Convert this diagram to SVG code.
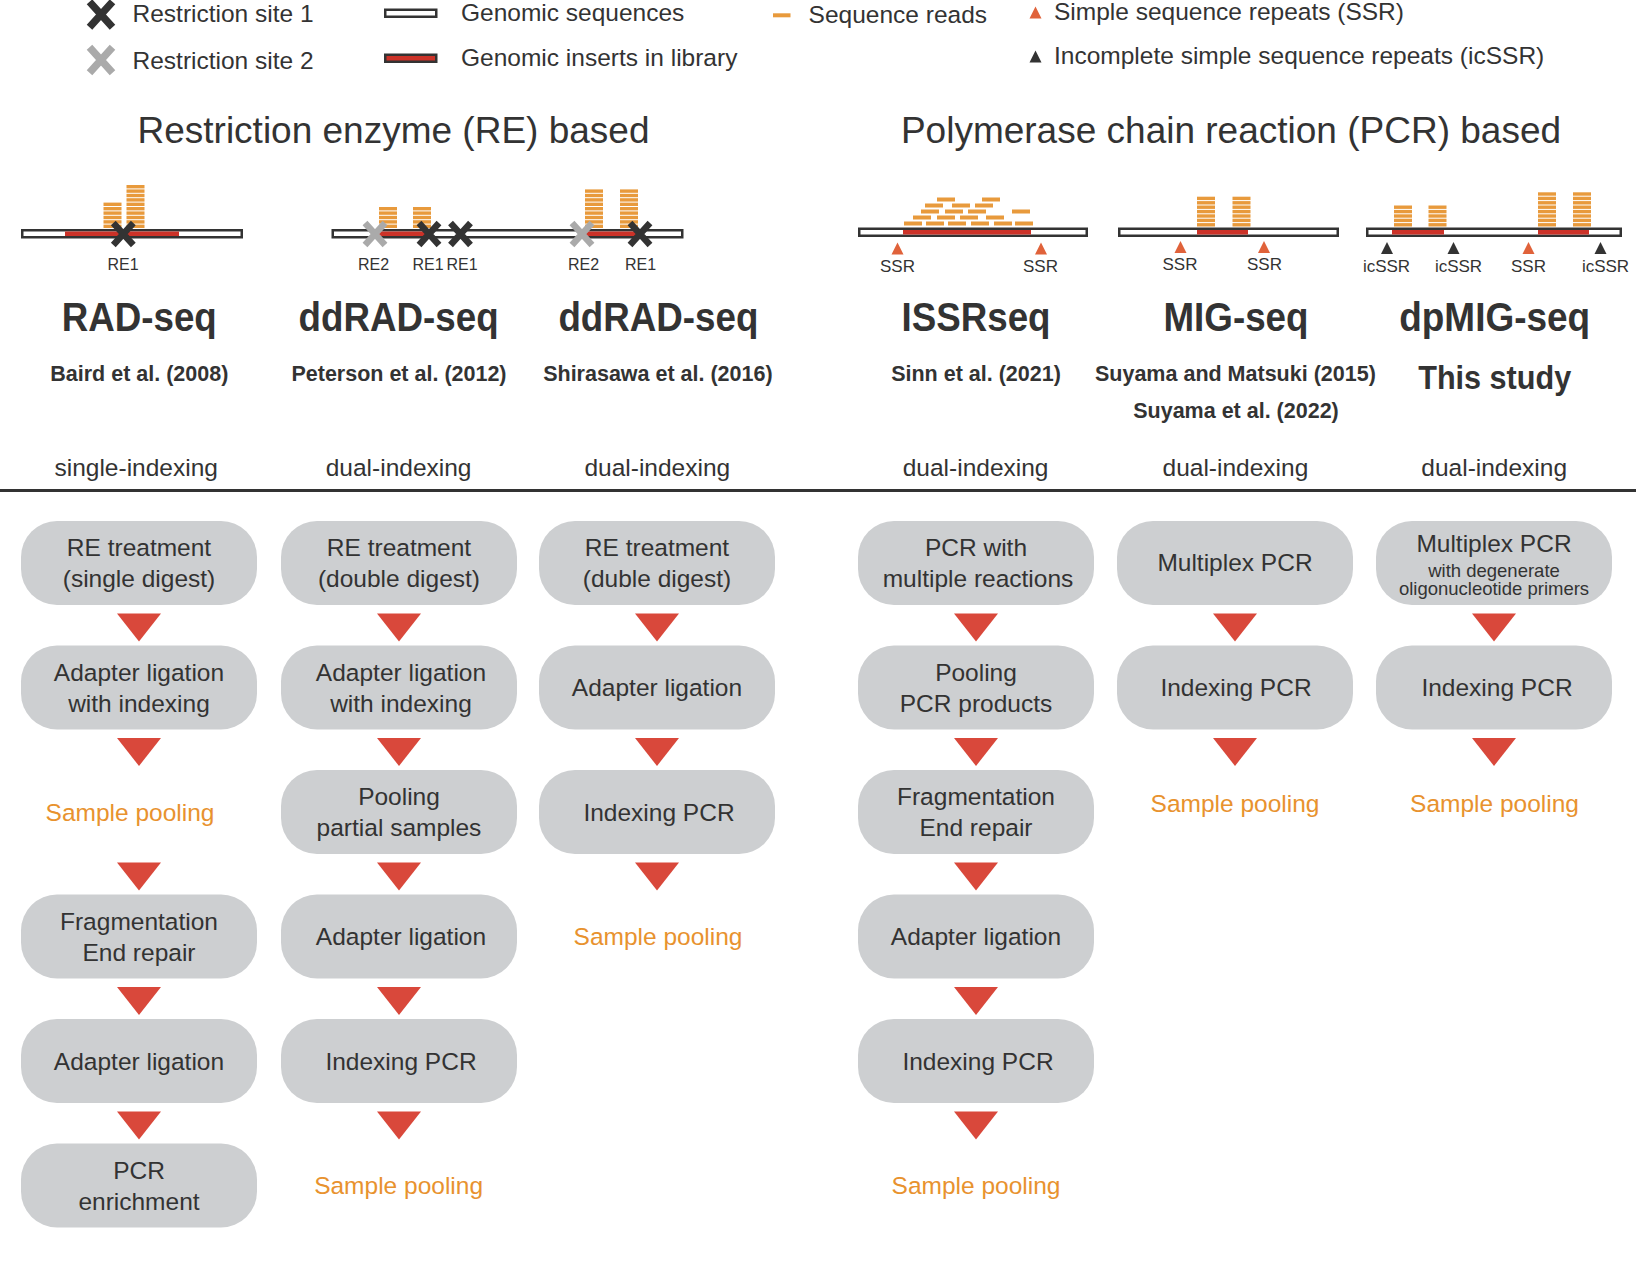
<svg xmlns="http://www.w3.org/2000/svg" xmlns:xlink="http://www.w3.org/1999/xlink" width="1636" height="1270" viewBox="0 0 1636 1270">
<style>
text{font-family:"Liberation Sans",Arial,Helvetica,sans-serif;fill:#333}
.lg{font-size:24.5px}
.hd{font-size:37px;text-anchor:middle}
.ti{font-size:41px;font-weight:bold;text-anchor:middle}
.ci{font-size:21.5px;font-weight:bold;text-anchor:middle}
.ix{font-size:24.5px;text-anchor:middle}
.bt{font-size:24.5px;text-anchor:middle}
.sm{font-size:18.5px;text-anchor:middle}
.pool{font-size:24.5px;text-anchor:middle;fill:#e8922e}
.lab{font-size:16px;text-anchor:middle}
.box{fill:#cdcfd1}
.tri{fill:#d9483b}
.or{fill:#e89a3c}
.gout{fill:#333}
.gin{fill:#fff}
.gred{fill:#cc3228}
</style>
<defs>
<path id="xm" d="M-10,-11 L10,11 M10,-11 L-10,11" stroke-width="6.5" fill="none"/>
<g id="s5" class="or"><rect x="0" y="-3.4" width="18" height="3.4"/><rect x="0" y="-7.8" width="18" height="3.4"/><rect x="0" y="-12.2" width="18" height="3.4"/><rect x="0" y="-16.6" width="18" height="3.4"/><rect x="0" y="-21" width="18" height="3.4"/></g>
<g id="s6"><use xlink:href="#s5"/><rect class="or" x="0" y="-25.4" width="18" height="3.4"/></g>
<g id="s7"><use xlink:href="#s6"/><rect class="or" x="0" y="-29.8" width="18" height="3.4"/></g>
<g id="s8"><use xlink:href="#s7"/><rect class="or" x="0" y="-34.2" width="18" height="3.4"/></g>
<g id="s9"><use xlink:href="#s8"/><rect class="or" x="0" y="-38.6" width="18" height="3.4"/></g>
<g id="s10"><use xlink:href="#s9"/><rect class="or" x="0" y="-43" width="18" height="3.4"/></g>
<path id="tr" d="M0,-6 L6,6 L-6,6 Z"/>
</defs>

<!-- Legend -->
<g id="legend">
<use xlink:href="#xm" x="101" y="14.5" stroke="#333" transform="translate(101 14.5) scale(1.15) translate(-101 -14.5)"/>
<text class="lg" x="132.5" y="21.5">Restriction site 1</text>
<use xlink:href="#xm" x="101" y="60" stroke="#aaaaaa" transform="translate(101 60) scale(1.15) translate(-101 -60)"/>
<text class="lg" x="132.5" y="69">Restriction site 2</text>
<rect class="gout" x="384" y="8.5" width="53.5" height="9.5"/>
<rect class="gin" x="386.5" y="11" width="48.5" height="4.5"/>
<text class="lg" x="461" y="21">Genomic sequences</text>
<rect class="gout" x="384" y="53.5" width="53.5" height="9.5"/>
<rect class="gred" x="386.5" y="56" width="48.5" height="4.5"/>
<text class="lg" x="461" y="66">Genomic inserts in library</text>
<rect class="or" x="773" y="13.3" width="17.5" height="4"/>
<text class="lg" x="808.6" y="23">Sequence reads</text>
<use xlink:href="#tr" x="0" y="0" fill="#e0623a" transform="translate(1035.5 12.5)"/>
<text class="lg" x="1054" y="20">Simple sequence repeats (SSR)</text>
<use xlink:href="#tr" x="0" y="0" fill="#333" transform="translate(1035.5 56.5)"/>
<text class="lg" x="1054" y="64">Incomplete simple sequence repeats (icSSR)</text>
</g>

<!-- Section headers -->
<g id="headers">
<text class="hd" x="393.5" y="143">Restriction enzyme (RE) based</text>
<text class="hd" x="1231" y="143">Polymerase chain reaction (PCR) based</text>
</g>

<!-- Genome schematics -->
<g id="schematic-rad">
<use xlink:href="#s6" x="103.5" y="228"/>
<use xlink:href="#s10" x="126.5" y="228"/>
<rect class="gout" x="21" y="229" width="222" height="9.5"/>
<rect class="gin" x="23.5" y="231.5" width="217" height="4.5"/>
<rect class="gred" x="65" y="231.5" width="114" height="4.5"/>
<use xlink:href="#xm" x="123.3" y="234" stroke="#333"/>
<text class="lab" x="123" y="270">RE1</text>
</g>
<g id="schematic-ddrad">
<use xlink:href="#s5" x="379" y="228"/>
<use xlink:href="#s5" x="413" y="228"/>
<use xlink:href="#s9" x="585" y="228"/>
<use xlink:href="#s9" x="620" y="228"/>
<rect class="gout" x="331.5" y="229" width="352" height="9.5"/>
<rect class="gin" x="334" y="231.5" width="347" height="4.5"/>
<rect class="gred" x="377" y="231.5" width="49" height="4.5"/>
<rect class="gred" x="582" y="231.5" width="55" height="4.5"/>
<use xlink:href="#xm" x="375" y="234" stroke="#aaaaaa"/>
<use xlink:href="#xm" x="429" y="234" stroke="#333"/>
<use xlink:href="#xm" x="460.5" y="234" stroke="#333"/>
<use xlink:href="#xm" x="582" y="234" stroke="#aaaaaa"/>
<use xlink:href="#xm" x="640" y="234" stroke="#333"/>
<text class="lab" x="373.5" y="270">RE2</text>
<text class="lab" x="428" y="270">RE1</text>
<text class="lab" x="462" y="270">RE1</text>
<text class="lab" x="583.5" y="270">RE2</text>
<text class="lab" x="640.5" y="270">RE1</text>
</g>
<g id="schematic-issr">
<g class="or">
<rect x="937" y="197.5" width="18" height="4"/><rect x="982" y="197.5" width="18" height="4"/>
<rect x="925" y="203.5" width="18" height="4"/><rect x="952" y="203.5" width="18" height="4"/><rect x="975" y="203.5" width="18" height="4"/>
<rect x="921" y="209.5" width="18" height="4"/><rect x="945" y="209.5" width="18" height="4"/><rect x="968" y="209.5" width="18" height="4"/><rect x="1012" y="209.5" width="18" height="4"/>
<rect x="913" y="215.5" width="18" height="4"/><rect x="937" y="215.5" width="18" height="4"/><rect x="960" y="215.5" width="18" height="4"/><rect x="986" y="215.5" width="18" height="4"/>
<rect x="904" y="221.5" width="18" height="4"/><rect x="926" y="221.5" width="18" height="4"/><rect x="948" y="221.5" width="18" height="4"/><rect x="971" y="221.5" width="18" height="4"/><rect x="994" y="221.5" width="18" height="4"/><rect x="1015" y="221.5" width="18" height="4"/>
</g>
<rect class="gout" x="858" y="227.5" width="230" height="9.5"/>
<rect class="gin" x="860.5" y="230" width="225" height="4.5"/>
<rect class="gred" x="903" y="230" width="128" height="4.5"/>
<use xlink:href="#tr" fill="#e0623a" transform="translate(897.5 248.5)"/>
<use xlink:href="#tr" fill="#e0623a" transform="translate(1041 248.5)"/>
<text class="lab" x="897.5" y="272" style="font-size:17px">SSR</text>
<text class="lab" x="1040.5" y="272" style="font-size:17px">SSR</text>
</g>
<g id="schematic-mig">
<use xlink:href="#s7" x="1197" y="226.5"/>
<use xlink:href="#s7" x="1232.5" y="226.5"/>
<rect class="gout" x="1118" y="227.5" width="221" height="9.5"/>
<rect class="gin" x="1120.5" y="230" width="216" height="4.5"/>
<rect class="gred" x="1197" y="230" width="51" height="4.5"/>
<use xlink:href="#tr" fill="#e0623a" transform="translate(1180.5 247)"/>
<use xlink:href="#tr" fill="#e0623a" transform="translate(1264 247)"/>
<text class="lab" x="1180" y="270" style="font-size:17px">SSR</text>
<text class="lab" x="1264.5" y="270" style="font-size:17px">SSR</text>
</g>
<g id="schematic-dpmig">
<use xlink:href="#s5" x="1394" y="226.5"/>
<use xlink:href="#s5" x="1428.5" y="226.5"/>
<use xlink:href="#s8" x="1538" y="226.5"/>
<use xlink:href="#s8" x="1573" y="226.5"/>
<rect class="gout" x="1366" y="227.5" width="256" height="9.5"/>
<rect class="gin" x="1368.5" y="230" width="251" height="4.5"/>
<rect class="gred" x="1392" y="230" width="52" height="4.5"/>
<rect class="gred" x="1538" y="230" width="51" height="4.5"/>
<use xlink:href="#tr" fill="#333" transform="translate(1387 248)"/>
<use xlink:href="#tr" fill="#333" transform="translate(1453.5 248)"/>
<use xlink:href="#tr" fill="#e0623a" transform="translate(1528.5 248)"/>
<use xlink:href="#tr" fill="#333" transform="translate(1600.5 248)"/>
<text class="lab" x="1386.5" y="272" style="font-size:17px">icSSR</text>
<text class="lab" x="1458.5" y="272" style="font-size:17px">icSSR</text>
<text class="lab" x="1528.5" y="272" style="font-size:17px">SSR</text>
<text class="lab" x="1605.5" y="272" style="font-size:17px">icSSR</text>
</g>

<!-- Method titles, citations, indexing -->
<g id="titles">
<text class="ti" x="139.3" y="331" textLength="155" lengthAdjust="spacingAndGlyphs">RAD-seq</text>
<text class="ti" x="398.6" y="331" textLength="200" lengthAdjust="spacingAndGlyphs">ddRAD-seq</text>
<text class="ti" x="658.4" y="331" textLength="200" lengthAdjust="spacingAndGlyphs">ddRAD-seq</text>
<text class="ti" x="976" y="331" textLength="149" lengthAdjust="spacingAndGlyphs">ISSRseq</text>
<text class="ti" x="1236" y="331" textLength="145" lengthAdjust="spacingAndGlyphs">MIG-seq</text>
<text class="ti" x="1494.7" y="331" textLength="191" lengthAdjust="spacingAndGlyphs">dpMIG-seq</text>
<text class="ci" x="139.3" y="380.5">Baird et al. (2008)</text>
<text class="ci" x="399" y="380.5">Peterson et al. (2012)</text>
<text class="ci" x="657.9" y="380.5">Shirasawa et al. (2016)</text>
<text class="ci" x="976" y="380.5">Sinn et al. (2021)</text>
<text class="ci" x="1235.4" y="380.5">Suyama and Matsuki (2015)</text>
<text class="ci" x="1236" y="418">Suyama et al. (2022)</text>
<text class="ti" x="1494.7" y="389" style="font-size:33px" textLength="153" lengthAdjust="spacingAndGlyphs">This study</text>
<text class="ix" x="136.2" y="475.5">single-indexing</text>
<text class="ix" x="398.6" y="475.5">dual-indexing</text>
<text class="ix" x="657.3" y="475.5">dual-indexing</text>
<text class="ix" x="975.6" y="475.5">dual-indexing</text>
<text class="ix" x="1235.4" y="475.5">dual-indexing</text>
<text class="ix" x="1494.2" y="475.5">dual-indexing</text>
</g>
<rect id="divider" x="0" y="489" width="1636" height="3" fill="#333"/>

<!-- Connectors -->
<g id="connectors" class="tri">
<path d="M117,613.5 h44 l-22,28 z"/><path d="M117,738 h44 l-22,28 z"/><path d="M117,862.5 h44 l-22,28 z"/><path d="M117,987 h44 l-22,28 z"/><path d="M117,1111.5 h44 l-22,28 z"/>
<path d="M377,613.5 h44 l-22,28 z"/><path d="M377,738 h44 l-22,28 z"/><path d="M377,862.5 h44 l-22,28 z"/><path d="M377,987 h44 l-22,28 z"/><path d="M377,1111.5 h44 l-22,28 z"/>
<path d="M635,613.5 h44 l-22,28 z"/><path d="M635,738 h44 l-22,28 z"/><path d="M635,862.5 h44 l-22,28 z"/>
<path d="M954,613.5 h44 l-22,28 z"/><path d="M954,738 h44 l-22,28 z"/><path d="M954,862.5 h44 l-22,28 z"/><path d="M954,987 h44 l-22,28 z"/><path d="M954,1111.5 h44 l-22,28 z"/>
<path d="M1213,613.5 h44 l-22,28 z"/><path d="M1213,738 h44 l-22,28 z"/>
<path d="M1472,613.5 h44 l-22,28 z"/><path d="M1472,738 h44 l-22,28 z"/>
</g>

<!-- Column 1: RAD-seq -->
<g id="c1r1"><rect class="box" x="21" y="521" width="236" height="84" rx="36"/><text class="bt" x="139" y="556">RE treatment</text><text class="bt" x="139" y="587">(single digest)</text></g>
<g id="c1r2"><rect class="box" x="21" y="645.5" width="236" height="84" rx="36"/><text class="bt" x="139" y="680.5">Adapter ligation</text><text class="bt" x="139" y="711.5">with indexing</text></g>
<g id="c1r3"><text class="pool" x="130" y="820.5">Sample pooling</text></g>
<g id="c1r4"><rect class="box" x="21" y="894.5" width="236" height="84" rx="36"/><text class="bt" x="139" y="929.5">Fragmentation</text><text class="bt" x="139" y="960.5">End repair</text></g>
<g id="c1r5"><rect class="box" x="21" y="1019" width="236" height="84" rx="36"/><text class="bt" x="139" y="1069.5">Adapter ligation</text></g>
<g id="c1r6"><rect class="box" x="21" y="1143.5" width="236" height="84" rx="36"/><text class="bt" x="139" y="1178.5">PCR</text><text class="bt" x="139" y="1209.5">enrichment</text></g>

<!-- Column 2: ddRAD-seq (Peterson) -->
<g id="c2r1"><rect class="box" x="281" y="521" width="236" height="84" rx="36"/><text class="bt" x="399" y="556">RE treatment</text><text class="bt" x="399" y="587">(double digest)</text></g>
<g id="c2r2"><rect class="box" x="281" y="645.5" width="236" height="84" rx="36"/><text class="bt" x="401" y="680.5">Adapter ligation</text><text class="bt" x="401" y="711.5">with indexing</text></g>
<g id="c2r3"><rect class="box" x="281" y="770" width="236" height="84" rx="36"/><text class="bt" x="399" y="805">Pooling</text><text class="bt" x="399" y="836">partial samples</text></g>
<g id="c2r4"><rect class="box" x="281" y="894.5" width="236" height="84" rx="36"/><text class="bt" x="401" y="945">Adapter ligation</text></g>
<g id="c2r5"><rect class="box" x="281" y="1019" width="236" height="84" rx="36"/><text class="bt" x="401" y="1069.5">Indexing PCR</text></g>
<g id="c2r6"><text class="pool" x="398.6" y="1194">Sample pooling</text></g>

<!-- Column 3: ddRAD-seq (Shirasawa) -->
<g id="c3r1"><rect class="box" x="539" y="521" width="236" height="84" rx="36"/><text class="bt" x="657" y="556">RE treatment</text><text class="bt" x="657" y="587">(duble digest)</text></g>
<g id="c3r2"><rect class="box" x="539" y="645.5" width="236" height="84" rx="36"/><text class="bt" x="657" y="696">Adapter ligation</text></g>
<g id="c3r3"><rect class="box" x="539" y="770" width="236" height="84" rx="36"/><text class="bt" x="659" y="820.5">Indexing PCR</text></g>
<g id="c3r4"><text class="pool" x="658" y="945">Sample pooling</text></g>

<!-- Column 4: ISSRseq -->
<g id="c4r1"><rect class="box" x="858" y="521" width="236" height="84" rx="36"/><text class="bt" x="976" y="556">PCR with</text><text class="bt" x="978" y="587">multiple reactions</text></g>
<g id="c4r2"><rect class="box" x="858" y="645.5" width="236" height="84" rx="36"/><text class="bt" x="976" y="680.5">Pooling</text><text class="bt" x="976" y="711.5">PCR products</text></g>
<g id="c4r3"><rect class="box" x="858" y="770" width="236" height="84" rx="36"/><text class="bt" x="976" y="805">Fragmentation</text><text class="bt" x="976" y="836">End repair</text></g>
<g id="c4r4"><rect class="box" x="858" y="894.5" width="236" height="84" rx="36"/><text class="bt" x="976" y="945">Adapter ligation</text></g>
<g id="c4r5"><rect class="box" x="858" y="1019" width="236" height="84" rx="36"/><text class="bt" x="978" y="1069.5">Indexing PCR</text></g>
<g id="c4r6"><text class="pool" x="976" y="1194">Sample pooling</text></g>

<!-- Column 5: MIG-seq -->
<g id="c5r1"><rect class="box" x="1117" y="521" width="236" height="84" rx="36"/><text class="bt" x="1235" y="571">Multiplex PCR</text></g>
<g id="c5r2"><rect class="box" x="1117" y="645.5" width="236" height="84" rx="36"/><text class="bt" x="1236" y="696">Indexing PCR</text></g>
<g id="c5r3"><text class="pool" x="1235" y="812">Sample pooling</text></g>

<!-- Column 6: dpMIG-seq -->
<g id="c6r1"><rect class="box" x="1376" y="521" width="236" height="84" rx="36"/><text class="bt" x="1494" y="552">Multiplex PCR</text><text class="sm" x="1494" y="577">with degenerate</text><text class="sm" x="1494" y="595">oligonucleotide primers</text></g>
<g id="c6r2"><rect class="box" x="1376" y="645.5" width="236" height="84" rx="36"/><text class="bt" x="1497" y="696">Indexing PCR</text></g>
<g id="c6r3"><text class="pool" x="1494.5" y="812">Sample pooling</text></g>
</svg>
